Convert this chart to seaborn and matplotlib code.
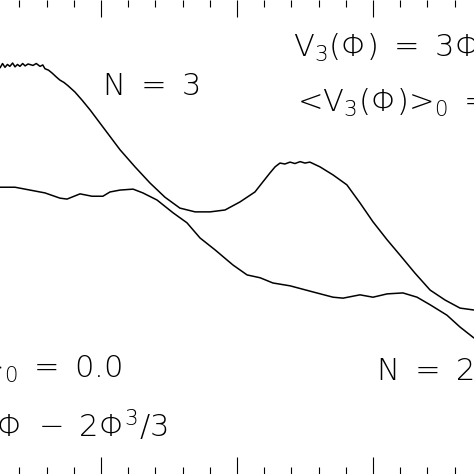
import matplotlib
matplotlib.use("Agg")
import matplotlib.pyplot as plt
import pandas as pd
import seaborn as sns
from matplotlib.ticker import MultipleLocator

# curve N = 3
x_n3 = [0.129, 0.138, 0.147, 0.156, 0.165, 0.175, 0.184, 0.193, 0.202, 0.212,
        0.221, 0.232, 0.250, 0.262, 0.276, 0.286, 0.294, 0.307, 0.320, 0.335,
        0.349, 0.364, 0.379, 0.404, 0.430, 0.460, 0.515, 0.570, 0.625, 0.680,
        0.735, 0.790, 0.846, 0.901, 0.956, 1.011, 1.066, 1.092, 1.121, 1.140,
        1.158, 1.176, 1.195, 1.213, 1.232, 1.250, 1.268, 1.305, 1.353, 1.404,
        1.452, 1.500, 1.552, 1.599, 1.654, 1.710, 1.765, 1.820, 1.871]
y_n3 = [0.857, 0.866, 0.858, 0.864, 0.860, 0.867, 0.859, 0.864, 0.860, 0.866,
        0.861, 0.865, 0.862, 0.866, 0.860, 0.863, 0.855, 0.852, 0.846, 0.838,
        0.831, 0.826, 0.819, 0.806, 0.789, 0.768, 0.726, 0.684, 0.648, 0.614,
        0.584, 0.561, 0.553, 0.553, 0.557, 0.574, 0.595, 0.614, 0.635, 0.648,
        0.656, 0.654, 0.658, 0.655, 0.659, 0.656, 0.658, 0.648, 0.631, 0.610,
        0.572, 0.532, 0.494, 0.462, 0.424, 0.388, 0.367, 0.350, 0.346]

# curve N = 2
x_n2 = [0.129, 0.184, 0.239, 0.294, 0.349, 0.375, 0.423, 0.467, 0.507, 0.533,
        0.570, 0.618, 0.654, 0.706, 0.765, 0.816, 0.864, 0.919, 0.985, 1.037,
        1.085, 1.132, 1.195, 1.280, 1.353, 1.390, 1.452, 1.500, 1.552, 1.610,
        1.662, 1.710, 1.772, 1.820, 1.871]
y_n2 = [0.605, 0.605, 0.599, 0.593, 0.582, 0.580, 0.591, 0.586, 0.586, 0.595,
        0.599, 0.601, 0.593, 0.578, 0.551, 0.530, 0.498, 0.473, 0.441, 0.420,
        0.414, 0.403, 0.397, 0.384, 0.373, 0.371, 0.378, 0.373, 0.380, 0.382,
        0.373, 0.357, 0.335, 0.310, 0.287]

df = pd.concat([
    pd.DataFrame({"phi": x_n3, "p": y_n3, "N": "3"}),
    pd.DataFrame({"phi": x_n2, "p": y_n2, "N": "2"}),
])

sns.set_style("white")
plt.rcParams["font.family"] = ["DejaVu Sans"]
plt.rcParams["mathtext.fontset"] = "custom"
plt.rcParams["mathtext.rm"] = "DejaVu Sans:light"
plt.rcParams["mathtext.it"] = "DejaVu Sans:light"
plt.rcParams["mathtext.bf"] = "DejaVu Sans:light"

fig = plt.figure(figsize=(4.74, 4.74), dpi=100)
ax = fig.add_axes([0, 0, 1, 1])

sns.lineplot(data=df, x="phi", y="p", units="N", estimator=None,
             color="black", linewidth=1.1, sort=False, ax=ax)

ax.set_xlim(0.1287, 1.8713)
ax.set_ylim(0, 1)
ax.set_xlabel("")
ax.set_ylabel("")
for s in ax.spines.values():
    s.set_visible(False)

ax.xaxis.set_major_locator(MultipleLocator(0.5))
ax.xaxis.set_minor_locator(MultipleLocator(0.1))
ax.tick_params(axis="x", which="both", direction="in", top=True, bottom=True,
               labelbottom=False, labeltop=False, width=0.8, color="black")
ax.tick_params(axis="x", which="major", length=12.5)
ax.tick_params(axis="x", which="minor", length=5)
ax.set_yticks([])

sp = "\u2002"  # wider gaps around the operators
fs = 22
kw = dict(transform=ax.transAxes, fontsize=fs, va="baseline", color="black",
          fontweight="light")
ax.text(103 / 474, 1 - 95 / 474, f"N{sp}={sp}3", ha="left", **kw)
ax.text(293 / 474, 1 - 57 / 474, f"V$_3$(Φ){sp}={sp}3Φ", ha="left", **kw)
ax.text(297 / 474, 1 - 112 / 474, f"<V$_3$(Φ)>$_0${sp}={sp}", ha="left", **kw)
ax.text(377 / 474, 1 - 380 / 474, f"N{sp}={sp}2", ha="left", **kw)
ax.text(122 / 474, 1 - 378 / 474, f"<V$_2$(Φ)>$_0${sp}={sp}0.0", ha="right", **kw)
ax.text(168 / 474, 1 - 437 / 474, f"V$_2$(Φ){sp}={sp}Φ{sp}−{sp}2Φ$^3$/3",
        ha="right", **kw)

fig.savefig("out.png", dpi=100)
